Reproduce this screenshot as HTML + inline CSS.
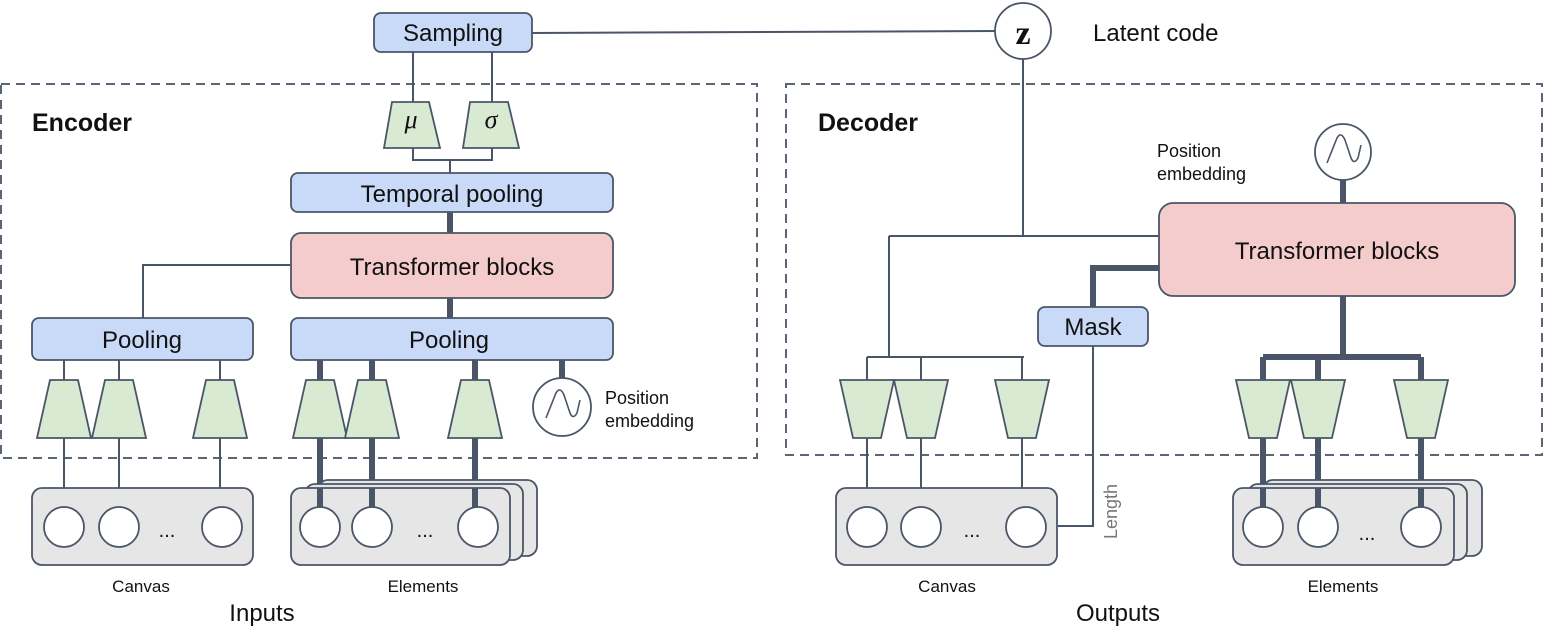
<!DOCTYPE html>
<html><head><meta charset="utf-8"><style>
html,body{margin:0;padding:0;background:#fff;}
svg{display:block;}
text{font-family:"Liberation Sans",sans-serif;fill:#111;}
</style></head><body>
<svg width="1547" height="627" viewBox="0 0 1547 627" xmlns="http://www.w3.org/2000/svg">
<defs>
<g id="tu"><polygon points="-14,0 14,0 27,58 -27,58" fill="#d9ead3" stroke="#4a5568" stroke-width="1.8"/></g>
<g id="td"><polygon points="-27,0 27,0 14,58 -14,58" fill="#d9ead3" stroke="#4a5568" stroke-width="1.8"/></g>
</defs>
<g fill="none" stroke="#5a6577" stroke-width="2" stroke-dasharray="9,6">
<rect x="1" y="84" width="756" height="374"/>
<rect x="786" y="84" width="756" height="371"/>
</g>
<g stroke="#4a5568" fill="none">
<path d="M532 33 L995 31" stroke-width="2"/>
<path d="M413 52 V102 M492 52 V102 M413 148 V160 H492 V148 M450 160 V173" stroke-width="2"/>
<path d="M291 265 H143 V318" stroke-width="2"/>
<path d="M450 212 V233 M450 298 V318" stroke-width="6"/>
<path d="M64 360 V527 M119 360 V527 M220 360 V527" stroke-width="2"/>
<path d="M320 360 V527 M372 360 V527 M475 360 V527 M562 360 V378" stroke-width="6"/>
<path d="M1023 59 V236 M889 236 H1160 M889 236 V357 M867 357 H1024 M867 357 V380 M921 357 V380 M1022 357 V380" stroke-width="2"/>
<path d="M1093 346 V526 H1058" stroke-width="2"/>
<path d="M1093 307 V268 H1160" stroke-width="6"/>
<path d="M1343 180 V203 M1343 296 V357 M1263 357 H1421 M1263 357 V527 M1318 357 V527 M1421 357 V527" stroke-width="6"/>
<path d="M867 438 V527 M921 438 V527 M1022 438 V527" stroke-width="2"/>
</g>
<g stroke="#4a5568" stroke-width="1.8">
<rect x="374" y="13" width="158" height="39" rx="7" fill="#c9daf8"/>
<rect x="291" y="173" width="322" height="39" rx="7" fill="#c9daf8"/>
<rect x="291" y="233" width="322" height="65" rx="10" fill="#f4cccc"/>
<rect x="32" y="318" width="221" height="42" rx="7" fill="#c9daf8"/>
<rect x="291" y="318" width="322" height="42" rx="7" fill="#c9daf8"/>
<rect x="1038" y="307" width="110" height="39" rx="7" fill="#c9daf8"/>
<rect x="1159" y="203" width="356" height="93" rx="14" fill="#f4cccc"/>
<polygon points="392,102 429,102 440,148 384,148" fill="#d9ead3"/>
<polygon points="470,102 508,102 519,148 463,148" fill="#d9ead3"/>
<circle cx="1023" cy="31" r="28" fill="#fff"/>
<circle cx="562" cy="407" r="29" fill="#fff"/>
<circle cx="1343" cy="152" r="28" fill="#fff"/>
</g>
<path d="M546 418 L556 393 Q560 386 564 395 L570 413 Q573 420 577 413 L580 400" fill="none" stroke="#4a5568" stroke-width="1.6"/>
<path d="M1327 163 L1337 138 Q1341 131 1345 140 L1351 158 Q1354 165 1358 158 L1361 145" fill="none" stroke="#4a5568" stroke-width="1.6"/>
<use href="#tu" x="64" y="380"/><use href="#tu" x="119" y="380"/><use href="#tu" x="220" y="380"/>
<use href="#tu" x="320" y="380"/><use href="#tu" x="372" y="380"/><use href="#tu" x="475" y="380"/>
<use href="#td" x="867" y="380"/><use href="#td" x="921" y="380"/><use href="#td" x="1022" y="380"/>
<use href="#td" x="1263" y="380"/><use href="#td" x="1318" y="380"/><use href="#td" x="1421" y="380"/>
<g stroke="#4a5568" stroke-width="1.8" fill="#e6e6e6">
<rect x="32" y="488" width="221" height="77" rx="10"/>
<rect x="318" y="480" width="219" height="76" rx="10"/>
<rect x="305" y="484" width="218" height="76" rx="10"/>
<rect x="291" y="488" width="219" height="77" rx="10"/>
<rect x="836" y="488" width="221" height="77" rx="10"/>
<rect x="1263" y="480" width="219" height="76" rx="10"/>
<rect x="1248" y="484" width="219" height="76" rx="10"/>
<rect x="1233" y="488" width="221" height="77" rx="10"/>
</g>
<g stroke="#4a5568" stroke-width="6">
<path d="M320 488 V507 M372 488 V507 M475 488 V507 M1263 488 V507 M1318 488 V507 M1421 488 V507"/>
</g>
<g stroke="#4a5568" stroke-width="1.8" fill="#fff">
<ellipse cx="64" cy="527" rx="20" ry="20"/><ellipse cx="119" cy="527" rx="20" ry="20"/><ellipse cx="222" cy="527" rx="20" ry="20"/>
<ellipse cx="320" cy="527" rx="20" ry="20"/><ellipse cx="372" cy="527" rx="20" ry="20"/><ellipse cx="478" cy="527" rx="20" ry="20"/>
<ellipse cx="867" cy="527" rx="20" ry="20"/><ellipse cx="921" cy="527" rx="20" ry="20"/><ellipse cx="1026" cy="527" rx="20" ry="20"/>
<ellipse cx="1263" cy="527" rx="20" ry="20"/><ellipse cx="1318" cy="527" rx="20" ry="20"/><ellipse cx="1421" cy="527" rx="20" ry="20"/>
</g>
<g font-size="20" text-anchor="middle">
<text x="167" y="537">...</text><text x="425" y="537">...</text><text x="972" y="537">...</text><text x="1367" y="540">...</text>
</g>
<g font-size="24" text-anchor="middle">
<text x="453" y="41">Sampling</text>
<text x="452" y="202">Temporal pooling</text>
<text x="452" y="275">Transformer blocks</text>
<text x="142" y="348">Pooling</text>
<text x="449" y="348">Pooling</text>
<text x="1093" y="335">Mask</text>
<text x="1337" y="259">Transformer blocks</text>
<text x="262" y="621">Inputs</text>
<text x="1118" y="621">Outputs</text>
</g>
<text x="1093" y="41" font-size="24">Latent code</text>
<text x="1023" y="44" font-size="34" font-weight="bold" text-anchor="middle" style="font-family:'Liberation Serif',serif">z</text>
<text x="411" y="128" font-size="26" font-style="italic" text-anchor="middle" style="font-family:'Liberation Serif',serif">μ</text>
<text x="491" y="128" font-size="26" font-style="italic" text-anchor="middle" style="font-family:'Liberation Serif',serif">σ</text>
<text x="32" y="131" font-size="25" font-weight="bold">Encoder</text>
<text x="818" y="131" font-size="25" font-weight="bold">Decoder</text>
<g font-size="18">
<text x="605" y="404">Position</text><text x="605" y="427">embedding</text>
<text x="1157" y="157">Position</text><text x="1157" y="180">embedding</text>
</g>
<g font-size="17" text-anchor="middle">
<text x="141" y="592">Canvas</text><text x="423" y="592">Elements</text>
<text x="947" y="592">Canvas</text><text x="1343" y="592">Elements</text>
</g>
<text x="0" y="0" font-size="18" style="fill:#777" transform="translate(1117,539) rotate(-90)">Length</text>
</svg>
</body></html>
